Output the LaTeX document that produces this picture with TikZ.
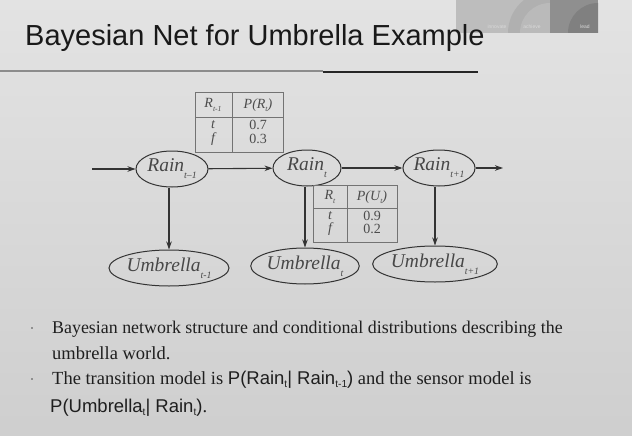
\documentclass[tikz,border=0pt]{standalone}
\usepackage{graphicx}
\usepackage{fontspec}
\setmainfont{Liberation Serif}
\newfontfamily\arialf{Liberation Sans}
\usetikzlibrary{shapes.geometric,arrows.meta}
\newcommand\lowidx[1]{\raisebox{-0.8ex}{\scalebox{0.5}{#1}}}
\newcommand\tabidx[1]{\raisebox{-0.5ex}{\scalebox{0.55}{#1}}}
\newcommand\txtidx[1]{\raisebox{-0.4ex}{\scalebox{0.55}{#1}}}
\newcommand\sanspart[1]{{\arialf\fontsize{18.5}{18.5}\selectfont #1}}
\begin{document}
\begin{tikzpicture}[x=1pt,y=-1pt,
  line/.style={draw=black!80, line width=1.1pt},
  arr/.style={line, -{Stealth[length=8pt,width=5.5pt]}},
  var/.style={ellipse, draw=black!80, line width=1pt, inner sep=0pt, minimum height=36,
    font=\fontsize{19.5}{19.5}\selectfont\itshape, text=black!72},
  tabbox/.style={rectangle, draw=black!55, line width=0.6pt, inner sep=0pt, anchor=north west},
  tabline/.style={draw=black!55, line width=0.6pt},
  cell/.style={font=\fontsize{14}{14}\selectfont, text=black!70, inner sep=0pt},
  body/.style={anchor=base west, inner sep=0pt, font=\fontsize{18.5}{18.5}\selectfont, text=black!88},
  logotxt/.style={font=\arialf\fontsize{5}{5}\selectfont, text=white!85!black, inner sep=0pt}]
\useasboundingbox (0,0) rectangle (632,436);
\shade[top color=black!11, bottom color=black!19] (0,0) rectangle (632,436);
% logo
\begin{scope}
\clip (456,0) rectangle (598,33);
\fill[black!26] (456,0) rectangle (550,33);
\fill[black!31] (550,33) circle (42);
\fill[black!27] (550,33) circle (30);
\fill[black!44] (550,0) rectangle (598,33);
\fill[black!50] (598,33) circle (30);
\end{scope}
\node[logotxt] (lg1) at (497,27) {innovate};
\node[logotxt] (lg2) at (532,27) {achieve};
\node[logotxt] (lg3) at (585,27) {lead};
% title
\node[anchor=base west, inner sep=0pt, font=\arialf\fontsize{29}{29}\selectfont, text=black!90] (title) at (25,46) {Bayesian Net for Umbrella Example};
\draw[black!45, line width=1.5pt] (0,71) -- (323,71);
\draw[black!85, line width=2pt] (323,72) -- (478,72);
% nodes
\node[var, minimum width=72] (r0) at (172,169) {Rain\lowidx{t--1}};
\node[var, minimum width=68] (r1) at (307,168) {Rain\lowidx{t}};
\node[var, minimum width=69] (r2) at (439,168) {Rain\lowidx{t+1}};
\node[var, minimum width=115] (u0) at (169,268) {Umbrella\lowidx{t-1}};
\node[var, minimum width=108] (u1) at (305,266) {Umbrella\lowidx{t}};
\node[var, minimum width=104] (u2) at (435,264) {Umbrella\lowidx{t+1}};
\coordinate (in) at (92,169);
\coordinate (out) at (503,168);
\draw[arr] (in) -- (r0);
\draw[arr] (r0) -- (r1);
\draw[arr] (r1) -- (r2);
\draw[arr] (r2) -- (out);
\draw[arr] (u0.north |- r0.south) -- (u0.north);
\draw[arr] (u1.north |- r1.south) -- (u1.north);
\draw[arr] (u2.north |- r2.south) -- (u2.north);
% table 1
\node[tabbox, minimum width=88, minimum height=60] (t1) at (195,92) {};
\draw[tabline] ([xshift=37pt]t1.north west) -- ([xshift=37pt]t1.south west);
\draw[tabline] ([yshift=-25pt]t1.north west) -- ([yshift=-25pt]t1.north east);
\node[cell] (t1a) at (213,105) {\itshape R\tabidx{t-1}};
\node[cell] (t1b) at (258,105) {\itshape P(R\tabidx{t})};
\node[cell] (t1c) at (213,125) {\itshape t};
\node[cell] (t1d) at (258,125) {0.7};
\node[cell] (t1e) at (213,139) {\itshape f};
\node[cell] (t1f) at (258,139) {0.3};
% table 2
\node[tabbox, minimum width=84, minimum height=57] (t2) at (313,185) {};
\draw[tabline] ([xshift=34pt]t2.north west) -- ([xshift=34pt]t2.south west);
\draw[tabline] ([yshift=-23pt]t2.north west) -- ([yshift=-23pt]t2.north east);
\node[cell] (t2a) at (330,197) {\itshape R\tabidx{t}};
\node[cell] (t2b) at (372,197) {\itshape P(U\tabidx{t})};
\node[cell] (t2c) at (330,216) {\itshape t};
\node[cell] (t2d) at (372,216) {0.9};
\node[cell] (t2e) at (330,229) {\itshape f};
\node[cell] (t2f) at (372,229) {0.2};
% bullets
\fill[black!70] (32,328) circle (0.9pt);
\fill[black!70] (32,379) circle (0.9pt);
\node[body, font=\fontsize{17.9}{17.9}\selectfont] (l1) at (52,333) {Bayesian network structure and conditional distributions describing the};
\node[body] (l2) at (52,359) {umbrella world.};
\node[body] (l3) at (52,384) {The transition model is \sanspart{P(Rain\txtidx{t}| Rain\txtidx{t-1})} and the sensor model is};
\node[body] (l4) at (50,412) {\sanspart{P(Umbrella\txtidx{t}| Rain\txtidx{t})}.};
\end{tikzpicture}
\end{document}
